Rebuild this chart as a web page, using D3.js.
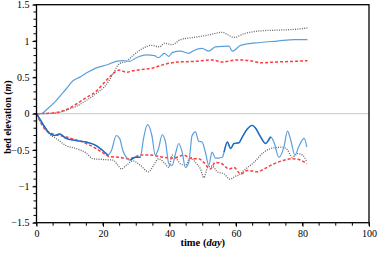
<!DOCTYPE html>
<html>
<head>
<meta charset="utf-8">
<script src="https://cdn.jsdelivr.net/npm/d3@7"></script>
<style>
  body { margin: 0; background: #fff; }
  text { font-family: "Liberation Serif", "Times New Roman", serif; }
</style>
</head>
<body>
<div id="chart"></div>
<script>
// values: [day, bed elevation (m)]
var upperBlue = [[0,0],[1.5,0],[2.9,0.05],[5.9,0.18],[8.9,0.34],[10.9,0.45],[12.9,0.5],[15.4,0.57],[18,0.63],[21,0.67],[24,0.72],[26,0.73],[28,0.72],[30,0.77],[33,0.81],[35.5,0.8],[36.6,0.77],[38.5,0.83],[39.8,0.79],[40.8,0.84],[43.3,0.86],[45.8,0.83],[47.3,0.87],[49.8,0.9],[51.8,0.86],[53.8,0.92],[57.9,0.93],[58.9,0.86],[61.4,0.94],[67.4,0.98],[72.5,1.0],[77.5,1.02],[81.5,1.02]];
var upperGray = [[0,0],[6,0.01],[8.9,0.05],[11.9,0.1],[14.9,0.18],[18,0.28],[21,0.4],[23,0.55],[25,0.69],[27,0.72],[29,0.8],[32,0.9],[34.5,0.94],[37,0.92],[38.5,0.97],[40.8,0.95],[43.3,1.02],[47.3,1.05],[51.4,1.08],[55.9,1.12],[57.4,1.09],[59.4,1.05],[62.4,1.1],[67.4,1.14],[72.5,1.15],[77.5,1.16],[81.5,1.18]];
var upperRed = [[0,0],[5,0.01],[8.9,0.055],[11.9,0.13],[14.9,0.22],[18,0.31],[21,0.46],[23,0.55],[25,0.6],[27,0.57],[29,0.59],[32,0.61],[35,0.63],[38.5,0.68],[42.3,0.71],[47.3,0.72],[53.3,0.74],[55.4,0.71],[60.4,0.74],[65.4,0.72],[67.4,0.7],[71.4,0.71],[77.5,0.72],[81.5,0.73]];
var lowerBlue = [[0,0],[1.9,-0.14],[3.9,-0.27],[5.4,-0.3],[6.9,-0.28],[8.9,-0.34],[11.9,-0.37],[14.9,-0.39],[18,-0.44],[20,-0.51],[21.5,-0.57],[22.5,-0.51],[24,-0.3],[25,-0.34],[26,-0.51],[28.2,-0.64],[29.7,-0.6],[31.2,-0.6],[32.2,-0.34],[33.4,-0.15],[34.7,-0.3],[35.7,-0.57],[36.7,-0.48],[37.8,-0.29],[38.8,-0.39],[39.8,-0.69],[40.8,-0.71],[41.8,-0.55],[42.8,-0.41],[43.8,-0.53],[44.8,-0.74],[45.8,-0.67],[46.8,-0.3],[47.8,-0.25],[48.8,-0.38],[49.8,-0.39],[50.8,-0.53],[51.8,-0.71],[52.8,-0.53],[53.8,-0.61],[54.8,-0.61],[55.9,-0.6],[56.4,-0.53],[57.4,-0.39],[58.4,-0.48],[59.4,-0.41],[60.9,-0.4],[61.9,-0.32],[63.4,-0.21],[64.9,-0.16],[65.9,-0.2],[67.4,-0.32],[68.9,-0.41],[70.4,-0.32],[71.4,-0.39],[72.9,-0.6],[74.4,-0.46],[75.5,-0.24],[76.5,-0.37],[77.7,-0.57],[79,-0.44],[80.5,-0.34],[81.3,-0.46]];
var lowerGray = [[0,0],[1.9,-0.16],[3.9,-0.28],[5.9,-0.34],[8.9,-0.44],[11.9,-0.48],[14.9,-0.54],[17,-0.62],[20,-0.63],[23,-0.64],[24.5,-0.71],[25.5,-0.76],[27,-0.71],[29,-0.65],[31.2,-0.71],[33.7,-0.8],[35.2,-0.71],[36.7,-0.62],[38.3,-0.67],[39.8,-0.74],[40.8,-0.57],[41.8,-0.6],[43.3,-0.69],[44.8,-0.71],[46.3,-0.6],[47.8,-0.67],[49.3,-0.76],[50.3,-0.88],[51.5,-0.74],[52.8,-0.72],[54.4,-0.8],[56.4,-0.83],[58.2,-0.9],[59.9,-0.86],[61,-0.84],[62.4,-0.78],[65.4,-0.67],[68.4,-0.53],[70.4,-0.48],[73.9,-0.46],[75.5,-0.5],[76.9,-0.6],[78.5,-0.55],[80,-0.57],[81.3,-0.66]];
var lowerRed = [[0,0],[2.9,-0.23],[5.9,-0.29],[8.9,-0.32],[11.9,-0.36],[14.9,-0.41],[18,-0.48],[20,-0.54],[22,-0.59],[25,-0.6],[27.5,-0.62],[29,-0.61],[31.2,-0.57],[34.2,-0.57],[38.3,-0.6],[41.3,-0.61],[44.3,-0.57],[46.8,-0.62],[48.8,-0.62],[50.3,-0.67],[52.3,-0.76],[53.8,-0.67],[55.4,-0.68],[57.9,-0.76],[59.4,-0.74],[61.4,-0.83],[63.4,-0.78],[66.4,-0.8],[68.4,-0.76],[71.4,-0.69],[74.4,-0.64],[76.9,-0.62],[79.5,-0.64],[81.3,-0.69]];
// stretches of the lower blue line that show in the darker blue
var darkBlueRanges = [[0, 21.5], [28.2, 31.2], [56.4, 70.4]];

var xTicks = [0, 20, 40, 60, 80, 100];
var yTicks = [-1.5, -1, -0.5, 0, 0.5, 1, 1.5];

function init() {
    var w = 378;
    var h = 255;
    var left = 36.5, right = 369, top = 4.7, bottom = 222.7;

    var svg = d3.select("#chart")
        .append("svg")
        .attr("width", w)
        .attr("height", h);

    var xScale = d3.scaleLinear().domain([0, 100]).range([left, right]);
    var yScale = d3.scaleLinear().domain([-1.5, 1.5]).range([bottom, top]);

    // zero line
    svg.append("line")
        .attr("x1", xScale(0)).attr("x2", xScale(100))
        .attr("y1", yScale(0)).attr("y2", yScale(0))
        .attr("stroke", "#c8c8c8")
        .attr("stroke-width", 1);

    // minor ticks
    var xMinor = d3.range(0, 101, 5);
    var yMinor = d3.range(-15, 16).map(function (d) { return d / 10; });

    var xAxis = d3.axisBottom(xScale).tickValues(xTicks).tickSize(4).tickSizeOuter(0)
        .tickFormat(d3.format("d"));
    var yAxis = d3.axisLeft(yScale).tickValues(yTicks).tickSize(4).tickSizeOuter(0)
        .tickFormat(function (d) { return d === 0 ? "0" : d3.format("")(d); });

    var gx = svg.append("g")
        .attr("transform", "translate(0," + bottom + ")")
        .call(xAxis);
    gx.attr("font-family", null);
    gx.selectAll(".tick line").attr("stroke", "#000");
    gx.selectAll(".tick text").attr("dy", "0.95em").attr("y", 5)
        .style("font-size", "10px");
    gx.select(".domain").remove();

    var gy = svg.append("g")
        .attr("transform", "translate(" + left + ",0)")
        .call(yAxis);
    gy.attr("font-family", null);
    gy.selectAll(".tick text").attr("x", -7)
        .style("font-size", "10px");
    gy.select(".domain").remove();

    svg.append("g").selectAll("line")
        .data(xMinor).enter().append("line")
        .attr("x1", function (d) { return xScale(d); })
        .attr("x2", function (d) { return xScale(d); })
        .attr("y1", bottom).attr("y2", bottom + 3)
        .attr("stroke", "#000");
    svg.append("g").selectAll("line")
        .data(yMinor).enter().append("line")
        .attr("x1", left - 3).attr("x2", left)
        .attr("y1", function (d) { return yScale(d); })
        .attr("y2", function (d) { return yScale(d); })
        .attr("stroke", "#000");

    // series
    var line = d3.line()
        .x(function (d) { return xScale(d[0]); })
        .y(function (d) { return yScale(d[1]); })
        .curve(d3.curveMonotoneX);

    function draw(data, color, dash, width) {
        svg.append("path")
            .datum(data)
            .attr("d", line)
            .attr("fill", "none")
            .attr("stroke", color)
            .attr("stroke-width", width)
            .attr("stroke-dasharray", dash);
    }

    draw(upperGray, "#666", "1,1.3", 1.3);
    draw(upperRed, "#ff3b3b", "3,2", 1.5);
    draw(upperBlue, "#5a9fdc", null, 1.2);
    draw(lowerGray, "#666", "1,1.3", 1.3);
    draw(lowerRed, "#ff3b3b", "3,2", 1.5);
    draw(lowerBlue, "#5a9fdc", null, 1.2);
    darkBlueRanges.forEach(function (r) {
        draw(lowerBlue.filter(function (d) { return d[0] >= r[0] && d[0] <= r[1]; }),
            "#1e6cc0", null, 1.4);
    });

    // frame
    svg.append("rect")
        .attr("x", left).attr("y", top)
        .attr("width", right - left).attr("height", bottom - top)
        .attr("fill", "none")
        .attr("stroke", "#000")
        .attr("stroke-width", 1.3);

    // axis titles
    var xt = svg.append("text")
        .attr("x", (left + right) / 2)
        .attr("y", 246)
        .attr("text-anchor", "middle")
        .style("font-size", "10.5px")
        .style("font-weight", "bold");
    xt.append("tspan").text("time (");
    xt.append("tspan").style("font-style", "italic").text("day");
    xt.append("tspan").text(")");

    var yt = svg.append("text")
        .attr("transform", "translate(7,117) rotate(-90)")
        .attr("text-anchor", "middle")
        .attr("dy", "0.35em")
        .style("font-size", "10px")
        .style("font-weight", "bold");
    yt.append("tspan").text("bed elevation (");
    yt.append("tspan").style("font-style", "italic").text("m");
    yt.append("tspan").text(")");
}

window.onload = init;
</script>
</body>
</html>
